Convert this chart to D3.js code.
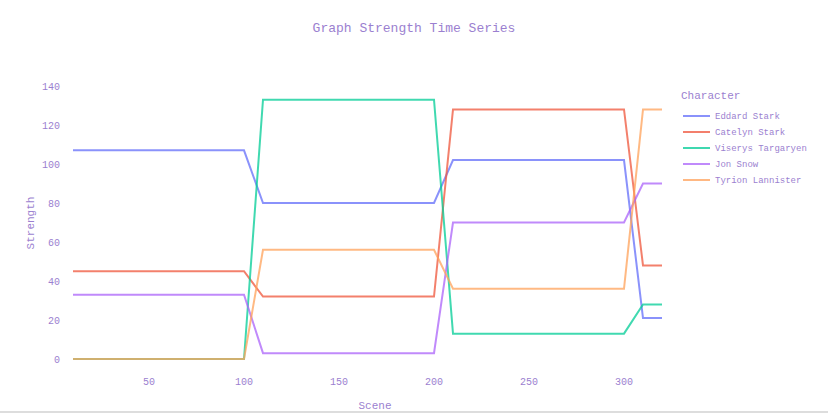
<!DOCTYPE html><html><head><script src="https://cdn.jsdelivr.net/npm/d3@7"></script>
<style>body{margin:0;background:#fff}text{font-family:"Liberation Mono","DejaVu Sans Mono",monospace;fill:#9b7fd0}</style></head><body>
<svg id="c" width="828" height="416"></svg>
<script>
const scenes=[10,100,110,200,210,300,310,320];
const names=["Eddard Stark","Catelyn Stark","Viserys Targaryen","Jon Snow","Tyrion Lannister"];
const eddard=[107,107,80,80,102,102,21,21];
const catelyn=[45,45,32,32,128,128,48,48];
const viserys=[0,0,133,133,13,13,28,28];
const jon=[33,33,3,3,70,70,90,90];
const tyrion=[0,0,56,56,36,36,128,128];
const colors=["#636efa","#ef553b","#00cc96","#ab63fa","#ffa15a"];
const xTicks=[50,100,150,200,250,300], yTicks=[0,20,40,60,80,100,120,140];
const series=[eddard,catelyn,viserys,jon,tyrion];
const svg=d3.select("#c");
const x=d3.scaleLinear().domain([10,320]).range([73,662]);
const y=d3.scaleLinear().domain([0,140]).range([359,86]);
svg.append("text").attr("x",414).attr("y",32).attr("text-anchor","middle").attr("font-size",13).text("Graph Strength Time Series");
yTicks.forEach(t=>svg.append("text").attr("x",60).attr("y",y(t)+4).attr("text-anchor","end").attr("font-size",10).text(t));
xTicks.forEach(t=>svg.append("text").attr("x",x(t)).attr("y",385).attr("text-anchor","middle").attr("font-size",10).text(t));
svg.append("text").attr("x",375).attr("y",409).attr("text-anchor","middle").attr("font-size",11).text("Scene");
svg.append("text").attr("transform","translate(34,223) rotate(-90)").attr("text-anchor","middle").attr("font-size",11).text("Strength");
const line=d3.line().x((d,i)=>x(scenes[i])).y(d=>y(d));
series.forEach((s,k)=>svg.append("path").attr("d",line(s)).attr("fill","none").attr("stroke",colors[k]).attr("stroke-width",2).attr("opacity",0.75));
svg.append("text").attr("x",681).attr("y",99).attr("font-size",11).text("Character");
names.forEach((n,k)=>{const yy=116+k*16;
svg.append("line").attr("x1",683).attr("x2",710).attr("y1",yy).attr("y2",yy).attr("stroke",colors[k]).attr("stroke-width",2).attr("opacity",0.75);
svg.append("text").attr("x",715).attr("y",yy+3).attr("font-size",9).text(n);});
svg.append("line").attr("x1",0).attr("x2",828).attr("y1",412).attr("y2",412).attr("stroke","#bbb");
</script></body></html>
